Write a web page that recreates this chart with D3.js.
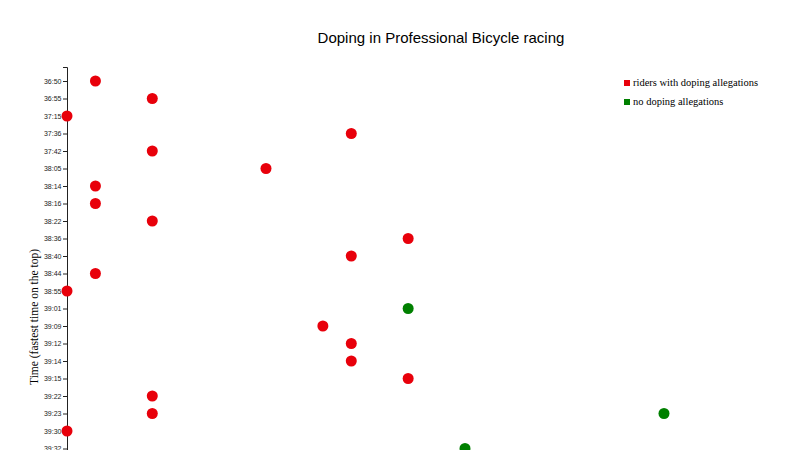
<!DOCTYPE html>
<html>
<head>
<meta charset="utf-8">
<script src="https://cdn.jsdelivr.net/npm/d3@7"></script>
<style>
  body { margin: 0; background: #fff; }
  .tick text { font-family: "Liberation Sans", Arial, sans-serif; font-size: 7px; fill: #222; }
</style>
</head>
<body>
<div id="chart"></div>
<script>
// times shown on the y axis, fastest on top
const times = ['36:50', '36:55', '37:15', '37:36', '37:42', '38:05', '38:14', '38:16',
  '38:22', '38:36', '38:40', '38:44', '38:55', '39:01', '39:09', '39:12', '39:14',
  '39:15', '39:22', '39:23', '39:30', '39:32'];

// one entry per rider: time, year, doping allegation or not
const riderTimes = ['36:50', '36:55', '37:15', '37:36', '37:42', '38:05', '38:14', '38:16',
  '38:22', '38:36', '38:40', '38:44', '38:55', '39:01', '39:09', '39:12', '39:14',
  '39:15', '39:22', '39:23', '39:23', '39:30', '39:32'];
const riderYears = [1995, 1997, 1994, 2004, 1997, 2001, 1995, 1995,
  1997, 2006, 2004, 1995, 1994, 2006, 2003, 2004, 2004,
  2006, 1997, 1997, 2015, 1994, 2008];
const riderDoping = [true, true, true, true, true, true, true, true,
  true, true, true, true, true, false, true, true, true,
  true, true, true, false, true, false];

const legendLabels = ['riders with doping allegations', 'no doping allegations'];
const legendColors = ['#e8000b', 'green'];

const chart = (() => {
  let $svg, $plot;
  let width = 800,
      height = 450,
      margin = {top: 67, left: 67},
      step = 17.5,
      pad = 0.8;

  const draw = (el) => {
    $svg = d3.select(el).append('svg')
      .attr('width', width)
      .attr('height', height);

    $svg.append('text')
      .attr('x', 441)
      .attr('y', 43)
      .attr('text-anchor', 'middle')
      .style('font-family', '"Liberation Sans", Arial, sans-serif')
      .style('font-size', '15px')
      .text('Doping in Professional Bicycle racing');

    $plot = $svg.append('g')
      .attr('transform', `translate(${margin.left}, ${margin.top})`);

    const y = d3.scalePoint()
      .domain(times)
      .range([0, step * (times.length - 1 + 2 * pad)])
      .padding(pad);

    const x = d3.scaleLinear()
      .domain([1994, 2015])
      .range([0, 597]);

    $plot.append('g')
      .call(d3.axisLeft(y).tickSize(4).tickPadding(1.5))
      .call(g => g.select('.domain').attr('stroke', '#222'))
      .call(g => g.selectAll('.tick line').attr('stroke', '#222'));

    $svg.append('text')
      .attr('transform', `translate(38, 317) rotate(-90)`)
      .attr('text-anchor', 'middle')
      .style('font-family', '"Liberation Serif", "Times New Roman", serif')
      .style('font-size', '11.5px')
      .text('Time (fastest time on the top)');

    const data = riderTimes.map((t, i) => ({time: t, year: riderYears[i], doping: riderDoping[i]}));

    $plot.selectAll('circle')
      .data(data)
      .enter().append('circle')
      .attr('cx', d => x(d.year))
      .attr('cy', d => y(d.time))
      .attr('r', 5.5)
      .style('fill', d => d.doping ? legendColors[0] : legendColors[1]);

    const $legend = $svg.append('g')
      .attr('transform', 'translate(624, 80)');

    const $item = $legend.selectAll('g')
      .data(legendLabels)
      .enter().append('g')
      .attr('transform', (d, i) => `translate(0, ${i * 19})`);

    $item.append('rect')
      .attr('width', 6)
      .attr('height', 6)
      .style('fill', (d, i) => legendColors[i]);

    $item.append('text')
      .attr('x', 9)
      .attr('y', 6)
      .style('font-family', '"Liberation Serif", "Times New Roman", serif')
      .style('font-size', '10.5px')
      .text(d => d);
  };

  return { draw: draw };
})();

chart.draw(document.getElementById('chart'));
</script>
</body>
</html>
